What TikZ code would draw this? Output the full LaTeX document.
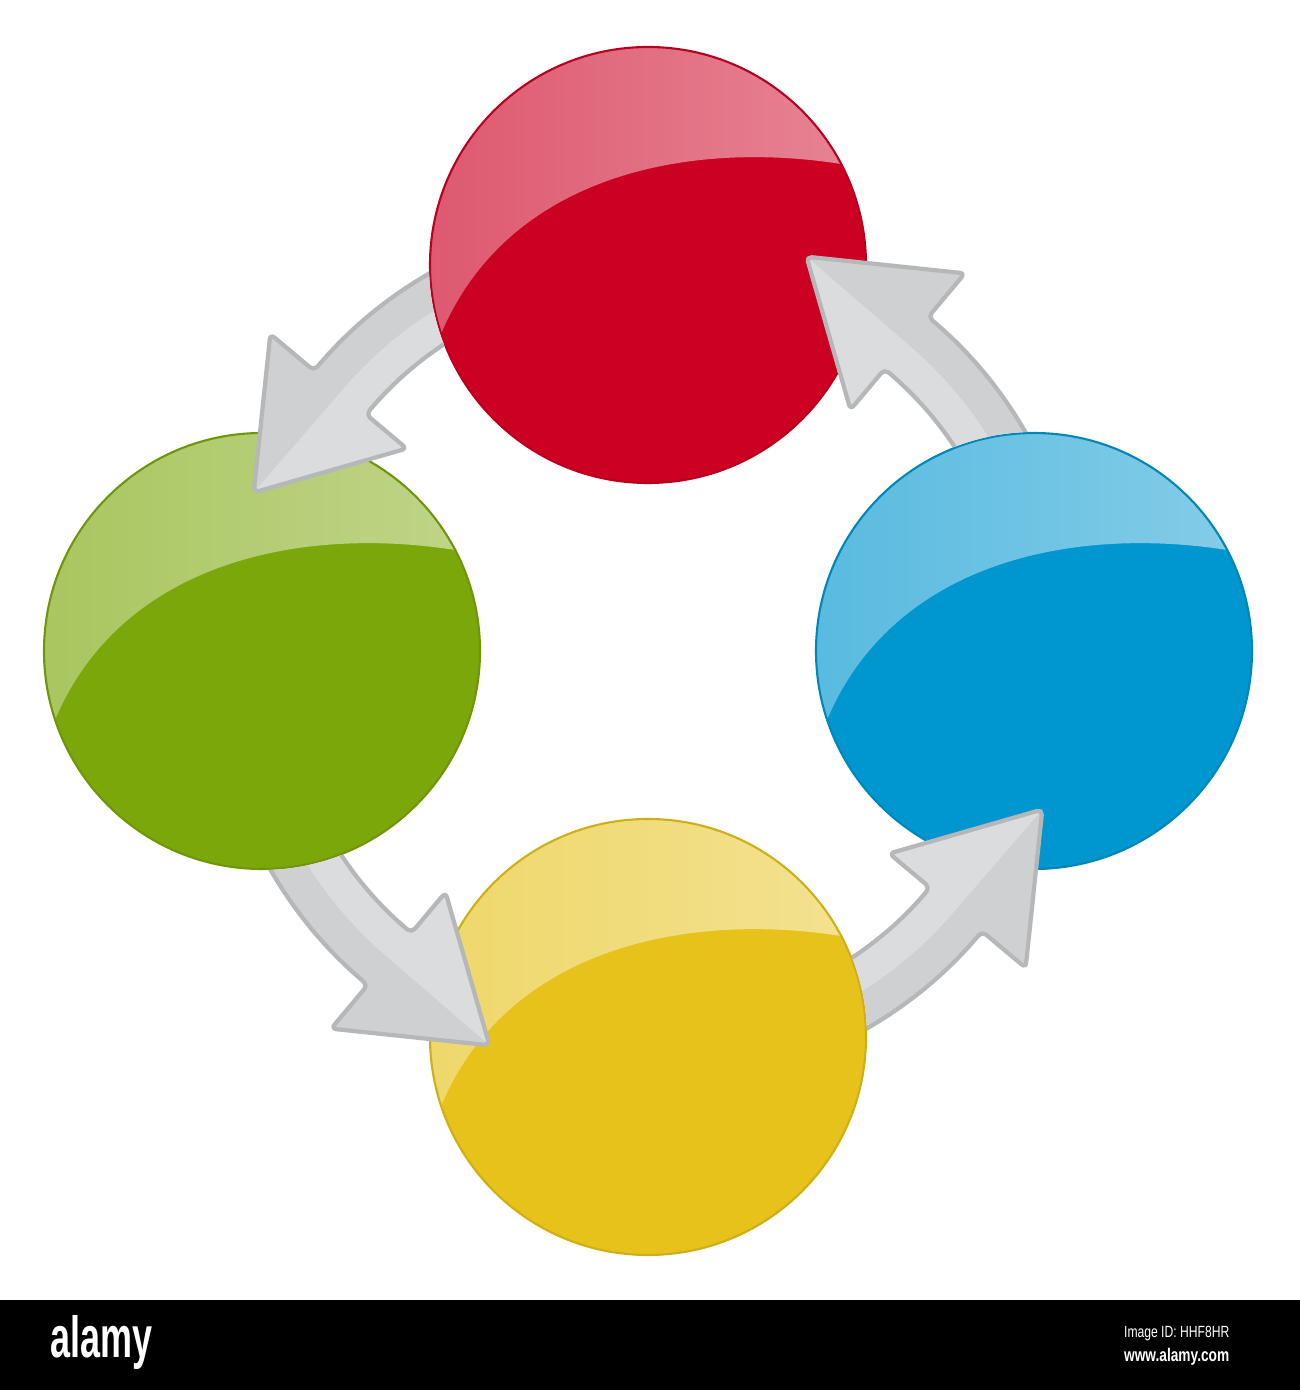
\documentclass[tikz,border=0pt]{standalone}
\usepackage{fontspec}
\newfontfamily\logofont{Liberation Sans}[FakeStretch=0.62]
\newfontfamily\idfont{Liberation Sans}[FakeStretch=0.75]
\usepackage{tikz}
\definecolor{discred}{HTML}{CC0022}
\definecolor{discgreen}{HTML}{7BA70A}
\definecolor{discblue}{HTML}{0096CF}
\definecolor{discyellow}{HTML}{E6C21A}
\definecolor{arrowdark}{HTML}{CFD0D2}
\definecolor{arrowlight}{HTML}{DBDCDE}
\definecolor{arrowedge}{HTML}{B6B7B9}

\begin{document}
\begin{tikzpicture}[
    x=0.01cm, y=0.01cm,
    disc/.style={circle, minimum size=4.36cm, inner sep=0pt},
    flow/.style={draw=arrowedge, line width=1.2pt, rounded corners=1.5pt, line join=round},
    flow half/.style={fill=arrowlight},
    bar text/.style={inner sep=0pt, text=white}
    ]
\fill[white] (0,0) rectangle (1300,1390);
\useasboundingbox (0,0) rectangle (1300,1390);
\coordinate (hub) at (648,739);
% the four discs
\node[disc, fill=discred] (red) at (648,1125) {};
\node[disc, fill=discgreen] (green) at (262,739) {};
\node[disc, fill=discyellow] (yellow) at (648,353) {};
\node[disc, fill=discblue] (blue) at (1034,739) {};
\foreach \n/\c in {red/discred, green/discgreen, yellow/discyellow, blue/discblue}{
  \begin{scope}[shift={(\n.center)}]
    \clip (0,0) circle (218);
    \shade[left color=\c!66!white, right color=\c!47!white] (-240,-69) -- (-207,-69)
      .. controls (-140,90) and (40,125) .. (193,101) -- (240,101) -- (240,240) -- (-240,240) -- cycle;
  \end{scope}
  \draw[\c!90!black, line width=0.6pt] (\n.center) circle (218);
}
% curved arrows, tail hidden under the source disc
\foreach \src/\b in {red/140, green/230, yellow/320, blue/50}{
  \pgfmathsetmacro\s{\b-45}
  \pgfmathsetmacro\t{\b+18.1}
  \begin{scope}[even odd rule]
    \clip (0,0) rectangle (1300,1390) (\src.center) circle (219);
    \begin{scope}[shift={(hub)}, nonzero rule]
      \fill[arrowdark, rounded corners=1.5pt] (\s:436) arc[start angle=\s, end angle=\b, radius=436] -- (\b:493) -- (\t:425)
        -- (\b:315) -- (\b:368) arc[start angle=\b, end angle=\s, radius=368] -- cycle;
      \fill[flow half] (\s:402) arc[start angle=\s, end angle=\b, radius=402] -- (\t:425)
        -- (\b:315) -- (\b:368) arc[start angle=\b, end angle=\s, radius=368] -- cycle;
      \draw[flow] (\s:436) arc[start angle=\s, end angle=\b, radius=436] -- (\b:493) -- (\t:425)
        -- (\b:315) -- (\b:368) arc[start angle=\b, end angle=\s, radius=368];
    \end{scope}
  \end{scope}
}
% bottom bar
\fill[black] (0,0) rectangle (1300,90);
\node[bar text, anchor=base west, font=\logofont\bfseries\fontsize{16.5pt}{16.5pt}\selectfont] (logo) at (50,32) {alamy};
\node[bar text, anchor=base east, font=\idfont\fontsize{4.6pt}{5pt}\selectfont] (imageid) at (1230,52) {Image ID: HHF8HR};
\node[bar text, anchor=base east, font=\idfont\bfseries\fontsize{5.2pt}{6pt}\selectfont] (site) at (1230,28) {www.alamy.com};
\end{tikzpicture}
\end{document}
